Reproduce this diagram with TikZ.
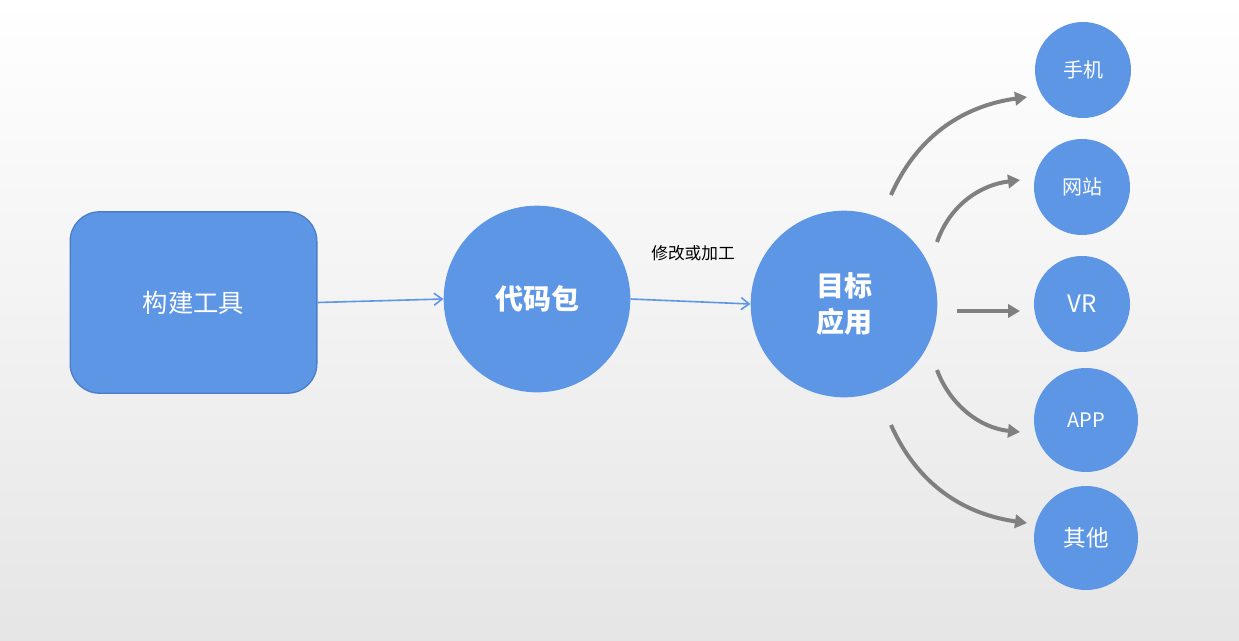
\documentclass[tikz,border=0pt]{standalone}
\usepackage{fontspec}
\setmainfont{Noto Sans CJK SC}
\usetikzlibrary{arrows.meta}
\definecolor{nodeblue}{HTML}{5E96E6}
\definecolor{edgeblue}{HTML}{4A7EC8}
\definecolor{arrgray}{HTML}{808080}
\begin{document}
\begin{tikzpicture}[x=0.75pt,y=-0.75pt,
  circ/.style={circle,fill=nodeblue,text=white,inner sep=0pt},
  thin/.style={draw=nodeblue,line width=1.2pt,-{Straight Barb[length=6pt,width=9pt]}},
  gray/.style={draw=arrgray,line width=3pt,-{Triangle[length=9pt,width=10pt]}}]
\shade[top color=white,bottom color=black!10,shading angle=0] (0,0) rectangle (1239,640);
\useasboundingbox (0,0) rectangle (1239,640);
\node[draw=edgeblue,line width=1pt,fill=nodeblue,rounded corners=22pt,minimum width=185pt,minimum height=136pt,text=white,font=\fontsize{19}{22}\selectfont] (a) at (193.5,302.5) {构建工具};
\node[circ,minimum size=140pt,font=\bfseries\fontsize{21}{24}\selectfont] (b) at (537,299) {代码包};
\node[circ,minimum size=140pt,align=center,font=\bfseries\fontsize{21}{27}\selectfont] (c) at (844,304) {目标\\应用};
\node[circ,minimum size=72pt,font=\fontsize{15}{18}\selectfont] (d1) at (1083,70) {手机};
\node[circ,minimum size=72pt,font=\fontsize{15}{18}\selectfont] (d2) at (1082,187) {网站};
\node[circ,minimum size=72pt,font=\fontsize{18}{20}\selectfont] (d3) at (1082,304) {VR};
\node[circ,minimum size=78pt,font=\fontsize{15}{18}\selectfont] (d4) at (1086,420) {APP};
\node[circ,minimum size=78pt,font=\fontsize{17}{20}\selectfont] (d5) at (1086,538) {其他};
\draw[thin] (a.east) -- (b.west);
\draw[thin] (b.east) -- (c.west);
\node[font=\fontsize{12.5}{15}\selectfont] (lab) at (693,253) {修改或加工};
\coordinate (s1) at (891,195); \coordinate (e1) at (1027,97);
\coordinate (s2) at (937,242); \coordinate (e2) at (1020,180);
\coordinate (s3) at (957,311); \coordinate (e3) at (1020,311);
\coordinate (s4) at (937,370); \coordinate (e4) at (1020,432);
\coordinate (s5) at (891,425); \coordinate (e5) at (1027,523);
\draw[gray] (s1) .. controls (920,130) and (970,105) .. (e1);
\draw[gray] (s2) .. controls (950,205) and (980,185) .. (e2);
\draw[gray] (s3) -- (e3);
\draw[gray] (s4) .. controls (950,405) and (980,428) .. (e4);
\draw[gray] (s5) .. controls (920,490) and (970,515) .. (e5);
\end{tikzpicture}
\end{document}
